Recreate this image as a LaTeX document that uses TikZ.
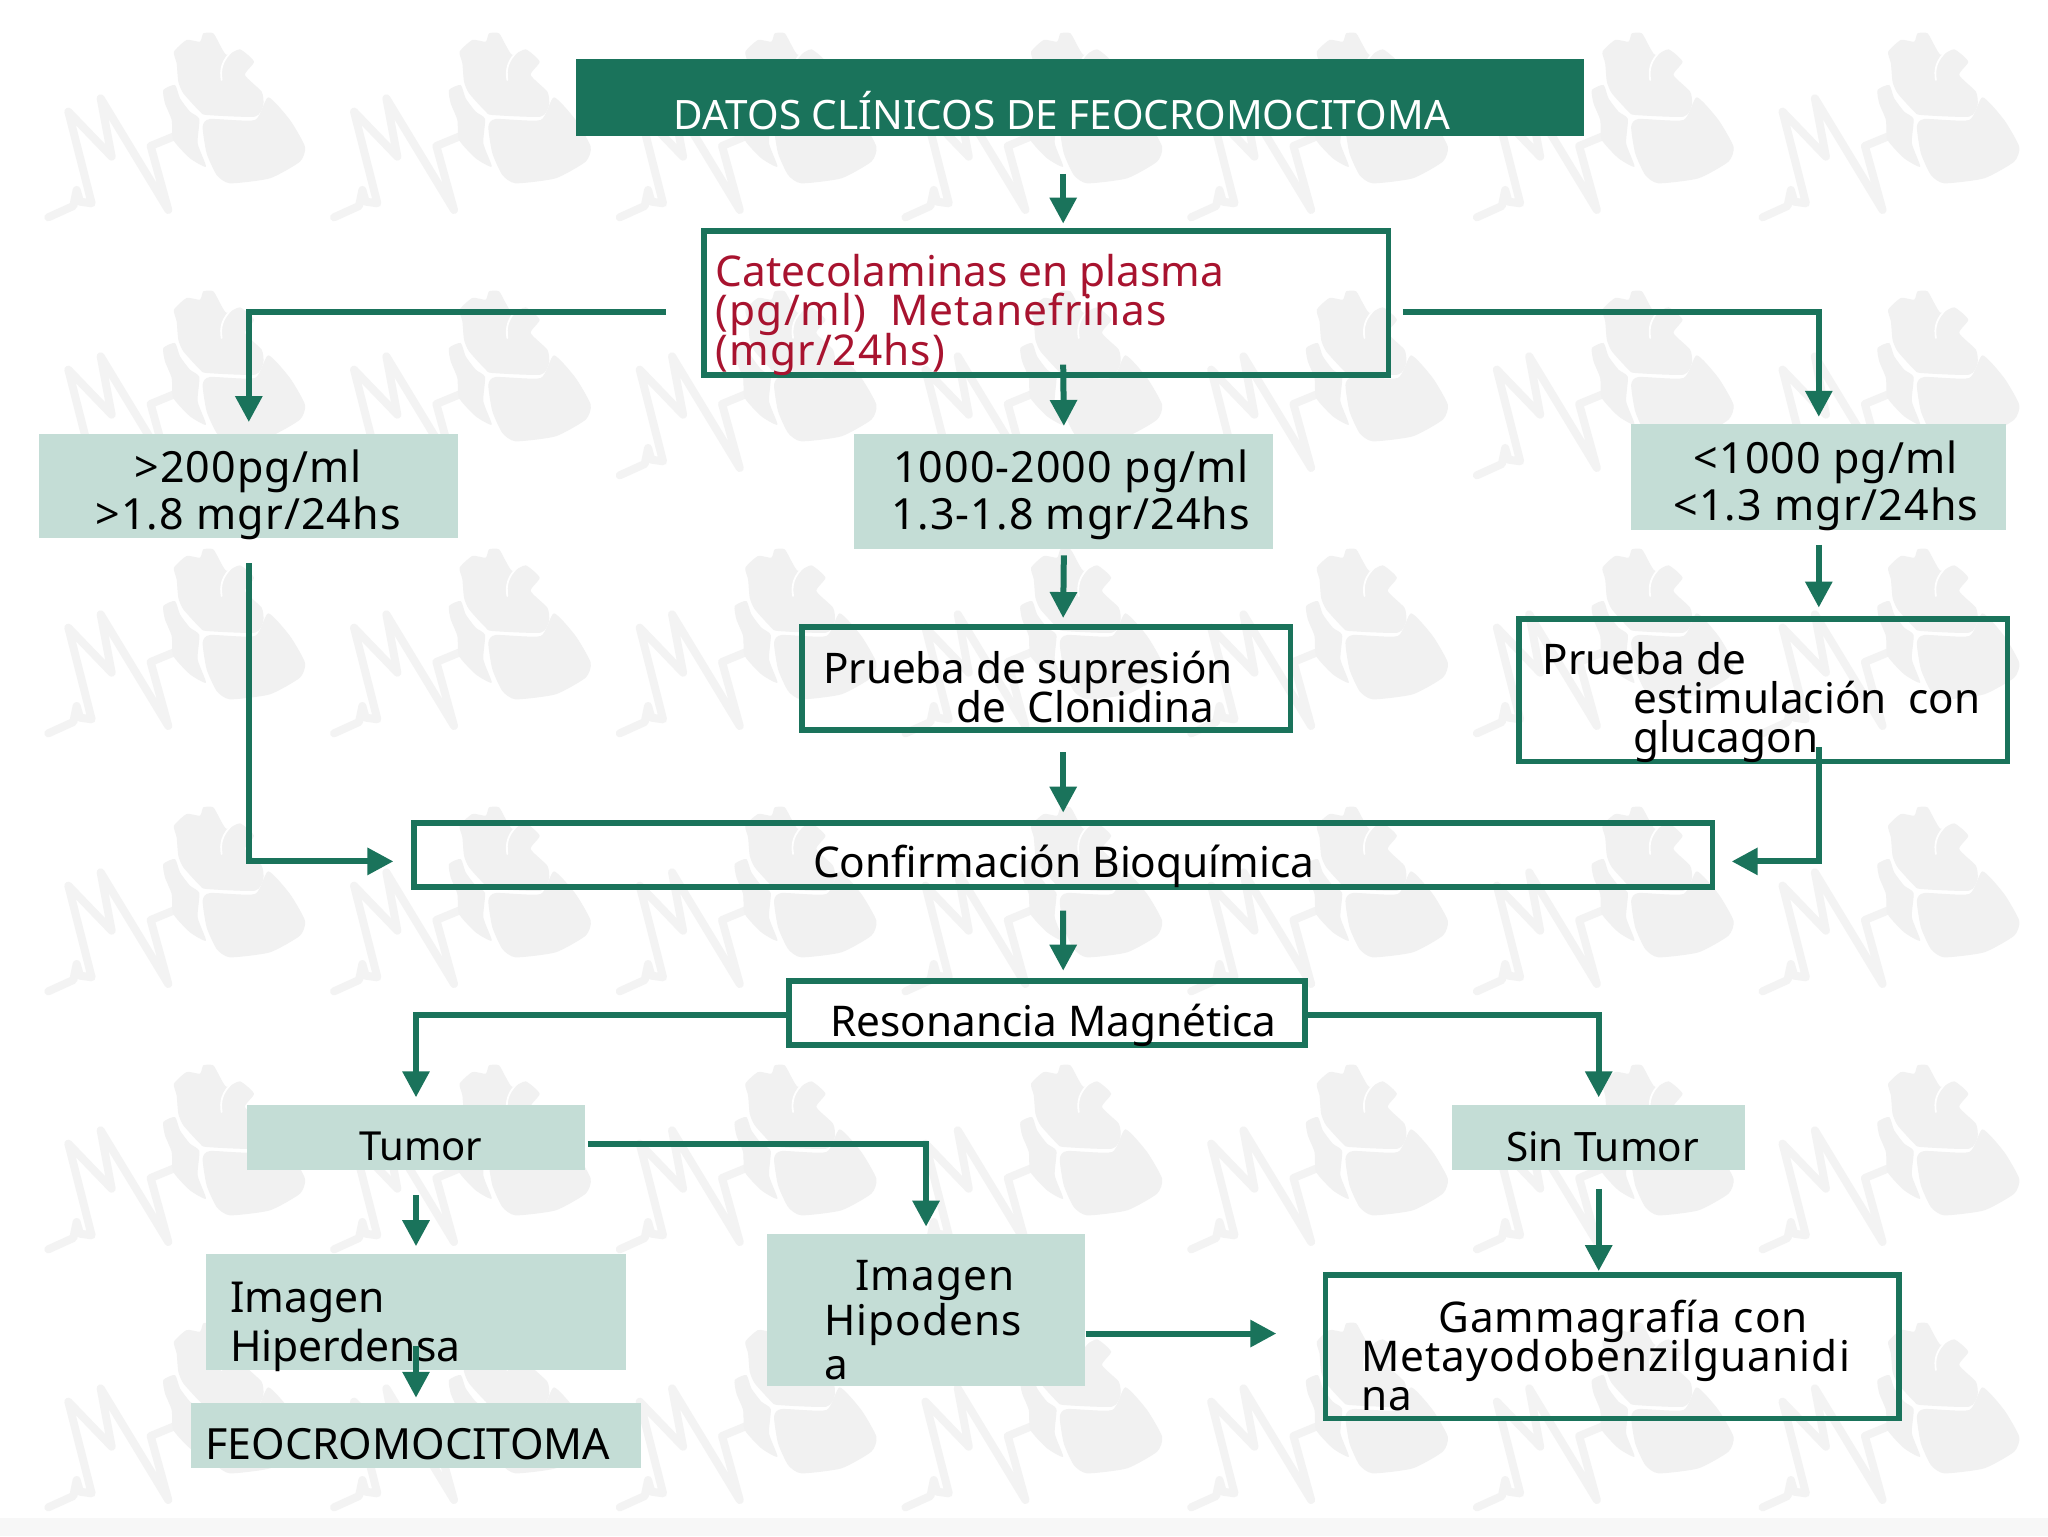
\documentclass[tikz,border=0pt]{standalone}
\usepackage{fontspec}
\usetikzlibrary{arrows.meta}
\setmainfont{Noto Sans}
\newfontfamily\nfs{Noto Sans}[LetterSpace=2.5]
\definecolor{gr}{HTML}{1A735B}
\definecolor{lt}{HTML}{C4DDD6}
\definecolor{rd}{HTML}{A8132F}
\definecolor{wm}{HTML}{F1F1F1}
\definecolor{wml}{HTML}{F3F3F3}
\newcommand\fs[2]{\fontsize{#1}{#2}\selectfont\lineskiplimit=-100pt\relax}
\tikzset{
  solidbox/.style={fill=gr,draw=none,inner sep=0pt},
  lightbox/.style={fill=lt,draw=none,inner sep=0pt},
  linebox/.style={draw=gr,line width=5.5pt,fill=none,inner sep=0pt},
  lbl/.style={inner sep=0pt,text=black},
  lf/.style={anchor=west,align=left},
  ct/.style={anchor=center,align=center},
  arr/.style={draw=gr,line width=6pt,shorten >=-3pt,-{Triangle[length=26pt,width=26pt]}},
  wmline/.style={draw=wml,line width=8pt,line join=round,line cap=round},
  wmfill/.style={fill=wm,draw=none},
  wmcut/.style={draw=white,line width=1.8pt,line cap=round},
}
% name x1 y1 x2 y2 labelstyle tx ty text
\newcommand\bx[9]{%
  \pgfmathsetmacro\bmx{(#2+#4)/2}%
  \pgfmathsetmacro\bmy{(#3+#5)/2}%
  \pgfmathsetmacro\bbw{(#4-#2)*1.3061}%
  \pgfmathsetmacro\bbh{(#5-#3)*1.3061}%
  \node[\bxstyle,minimum width=\bbw pt,minimum height=\bbh pt] (#1) at (\bmx,\bmy) {};%
  \node[lbl,#6] (#1 text) at (#7,#8) {#9};%
}
\newcommand\tile{%
  \draw[wmline] (55,592) -- (130,558) -- (140,510) -- (150,545) -- (185,550) -- (115,275) -- (245,410) -- (212,235) -- (415,570) -- (362,378) -- (430,350);
  \fill[wmfill] plot[smooth cycle,tension=0.35] coordinates {(432,95) (470,60) (510,65) (520,40) (550,40) (570,75) (590,105) (630,88) (672,125) (645,165) (695,215) (700,255) (675,290) (530,285) (510,275) (460,220) (445,185) (440,130)};
  \draw[wmcut] (610,90) .. controls (575,120) and (570,150) .. (575,180);
  \fill[wmfill] plot[smooth cycle,tension=0.35] coordinates {(518,320) (540,297) (675,300) (715,232) (780,300) (825,380) (810,425) (720,475) (600,490) (560,465) (530,400)};
  \fill[wmfill] plot[smooth cycle,tension=0.35] coordinates {(400,210) (435,195) (450,235) (480,275) (508,297) (503,370) (528,440) (480,415) (430,360) (425,300) (405,250)};
}
\begin{document}
\begin{tikzpicture}[x=1.3061pt,y=-1.3061pt]
\useasboundingbox (0,0) rectangle (1568,1176);
\fill[white] (0,0) rectangle (1568,1176);
\fill[black!3] (0,1162) rectangle (1568,1176);
\begin{scope}
\clip (0,0) rectangle (1568,1176);
\foreach \k in {0,...,6}{\foreach \r in {0,...,5}{
  \begin{scope}[shift={({30pt+\k*285.7pt},{-20pt-\r*258pt})},x=0.3333pt,y=-0.3333pt]
  \tile
  \end{scope}
}}
\end{scope}

\def\bxstyle{solidbox}
\bx{title}{441}{45}{1213}{104}{ct,text=white,font=\fs{40.5}{40}}{813}{85}{DATOS CLÍNICOS DE FEOCROMOCITOMA}
\def\bxstyle{linebox}
\bx{cat}{539}{177}{1063}{287}{lf,text=rd,font=\fs{42.4}{39.2}}{548}{241}{Catecolaminas en plasma\\{\nfs (pg/ml)\ \ Metanefrinas}\\{\nfs (mgr/24hs)}}
\def\bxstyle{lightbox}
\bx{a}{30}{332}{351}{412}{ct,font=\nfs\fs{43}{47}}{190}{379}{>200pg/ml\\>1.8 mgr/24hs}
\bx{b}{654}{332}{975}{420}{ct,font=\nfs\fs{43}{47}}{820}{379}{1000-2000 pg/ml\\1.3-1.8 mgr/24hs}
\bx{c}{1249}{325}{1536}{406}{ct,font=\nfs\fs{43}{47}}{1398}{372}{<1000 pg/ml\\<1.3 mgr/24hs}
\def\bxstyle{linebox}
\bx{d}{614}{480}{988}{559}{lf,font=\fs{42.2}{39.2}}{630}{526}{Prueba de supresión\\\hspace*{133pt}de\ \ Clonidina}
\bx{e}{1163}{474}{1537}{583}{lf,font=\fs{42.2}{39.2}}{1181}{538}{Prueba de\\\hspace*{91pt}estimulación\ \ con\\\hspace*{91pt}glucagon}
\bx{f}{317}{630}{1311}{679}{ct,font=\fs{42.4}{40}}{814.5}{663}{Confirmación Bioquímica}
\bx{g}{604}{751}{999}{800}{ct,font=\fs{42.3}{40}}{806.5}{785}{Resonancia Magnética}
\def\bxstyle{lightbox}
\bx{h}{189}{846}{448}{896}{ct,font=\fs{40}{40}}{322}{878}{Tumor}
\bx{i}{1112}{846}{1336}{896}{ct,font=\fs{40.5}{40}}{1227}{878}{Sin Tumor}
\bx{j}{158}{960}{479}{1049}{lf,font=\fs{42.6}{49.6}}{176}{1016}{Imagen\\Hiperdensa}
\bx{k}{587}{945}{831}{1061}{lf,font=\nfs\fs{42.3}{44.4}}{631}{1011}{\hspace*{31pt}Imagen\\Hipodens\\a}
\def\bxstyle{linebox}
\bx{l}{1015}{976}{1454}{1086}{lf,font=\nfs\fs{42.3}{39.2}}{1042}{1038}{\hspace*{77pt}Gammagrafía con\\Metayodobenzilguanidi\\na}
\def\bxstyle{lightbox}
\bx{m}{146}{1074}{491}{1124}{lf,font=\fs{43}{40}}{157}{1106}{FEOCROMOCITOMA}

\draw[arr] ([shift={(-13,29)}]title.south) -- ([shift={(13,-6)}]cat.north);
\draw[arr] ([shift={(-27,7)}]cat.west) -| ([shift={(0,-11)}]a.north);
\draw[arr] ([shift={(9,7)}]cat.east) -| ([shift={(0,-8)}]c.north);
\draw[arr] ([shift={(13,-10)}]cat.south) -- ([shift={(0,-8)}]b.north);
\draw[arr] ([shift={(0,5)}]b.south) -- ([shift={(13,-7)}]d.north);
\draw[arr] ([shift={(0,11)}]c.south) -- ([shift={(42.5,-9)}]e.north);
\draw[arr] ([shift={(13,15)}]d.south) -- ([shift={(0,-8)}]f.north);
\draw[arr] ([shift={(0,19)}]a.south) |- ([shift={(-16,5)}]f.west);
\draw[arr] ([shift={(43,-13)}]e.south) |- ([shift={(15,5)}]f.east);
\draw[arr] ([shift={(0,16)}]f.south) -- ([shift={(12.5,-8)}]g.north);
\draw[arr] ([shift={(0,1.5)}]g.west) -| ([shift={(0,-8)}]h.north);
\draw[arr] ([shift={(0,1.5)}]g.east) -| ([shift={(0,-8)}]i.north);
\draw[arr] ([shift={(0,19)}]h.south) -- ([shift={(0,-8)}]j.north);
\draw[arr] ([shift={(2,5)}]h.east) -| ([shift={(0,-8)}]k.north);
\draw[arr] ([shift={(0,14)}]i.south) -- ([shift={(-10.5,-3)}]l.north);
\draw[arr] ([shift={(0,18)}]k.east) -- ([shift={(-38,-10)}]l.west);
\draw[arr] ([shift={(0,-19)}]j.south) -- ([shift={(0,-6)}]m.north);
\end{tikzpicture}
\end{document}
